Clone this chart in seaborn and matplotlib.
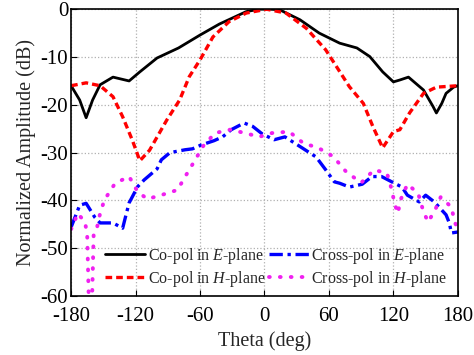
import pandas as pd
import seaborn as sns
import matplotlib.pyplot as plt
from matplotlib import ticker

# radiation patterns (theta in deg, amplitude in dB)
theta_co_e = [-180, -172, -166, -160, -153, -141, -126, -116, -100, -80, -60, -42, -17, -5, 5,
              14, 33, 51, 70, 86, 98, 110, 120, 126, 134, 148, 157, 160, 165, 169, 176, 180]
amp_co_e = [-16.0, -19.0, -22.7, -19.0, -15.8, -14.2, -15.0, -13.1, -10.2, -8.1, -5.4, -3.1, -0.5, 0.0, 0.0,
            -0.1, -2.2, -5.0, -7.1, -8.1, -9.9, -13.1, -15.2, -14.8, -14.2, -16.9, -20.4, -21.7, -19.7, -17.6, -16.3, -16.0]

theta_co_h = [-180, -166, -153, -141, -132, -123, -116, -107, -91, -79, -70, -60, -48, -33, -17,
              2, 20, 39, 57, 67, 79, 92, 101, 110, 120, 126, 135, 148, 160, 180]
amp_co_h = [-16.0, -15.4, -16.0, -18.3, -22.5, -27.4, -31.7, -29.5, -23.2, -19.0, -14.1, -10.6, -5.8, -2.6, -0.8,
            0.0, -0.8, -4.0, -8.5, -12.0, -16.2, -19.7, -24.6, -29.0, -25.6, -25.2, -21.7, -17.6, -16.3, -16.0]

theta_x_e = [-180, -172, -166, -158, -153, -141, -132, -130, -126, -118, -112, -100, -96, -88, -74,
             -67, -59, -47, -39, -31, -19, -11, -2, 9, 19, 35, 48, 57, 65, 70, 79, 91, 100,
             109, 121, 128, 133, 144, 150, 158, 169, 172, 174, 180]
amp_x_e = [-45.6, -41.0, -40.6, -43.5, -44.7, -44.7, -45.8, -44.0, -40.5, -37.1, -35.7, -33.4, -31.5, -30.0, -29.4,
           -29.2, -28.4, -27.5, -26.7, -25.2, -23.8, -24.5, -26.1, -27.3, -26.7, -29.0, -30.9, -33.6, -36.1, -36.4, -37.2, -36.6, -35.0,
           -35.0, -36.4, -37.2, -38.9, -40.3, -38.9, -40.3, -43.0, -44.7, -46.8, -46.6]

theta_x_h = [-180, -178, -174, -167, -165, -162, -159, -156, -153, -149, -139, -126, -118, -109, -95,
             -81, -73, -65, -57, -46, -32, -18, -5, 7, 23, 36, 50, 64, 76, 90, 102,
             114, 118, 121, 124, 127, 133, 143, 147, 152, 158, 164, 174, 177, 180]
amp_x_h = [-46.0, -45.1, -42.7, -44.5, -47.4, -75.0, -47.0, -45.8, -42.7, -39.9, -36.4, -35.0, -38.2, -39.7, -38.8,
           -37.8, -34.7, -31.7, -28.6, -25.9, -25.2, -25.9, -26.7, -25.9, -25.6, -28.0, -29.0, -30.8, -34.0, -36.3, -33.6,
           -34.3, -37.4, -40.5, -42.7, -39.7, -36.6, -38.5, -41.6, -44.5, -42.4, -39.3, -41.4, -44.5, -46.0]

names = ["Co-pol in $E$-plane", "Co-pol in $H$-plane",
         "Cross-pol in $E$-plane", "Cross-pol in $H$-plane"]
colors = ["black", "#ff0000", "#0000ff", "#f020f0"]

# long table for seaborn
frames = []
for name, th, amp in zip(names, [theta_co_e, theta_co_h, theta_x_e, theta_x_h],
                         [amp_co_e, amp_co_h, amp_x_e, amp_x_h]):
    frames.append(pd.DataFrame({"theta": th, "amp": amp, "series": name}))
df = pd.concat(frames, ignore_index=True)

sns.set_style("ticks")
plt.rcParams['font.family'] = ['Liberation Serif', 'DejaVu Serif']
plt.rcParams['mathtext.fontset'] = 'custom'
plt.rcParams['mathtext.rm'] = 'Liberation Serif'
plt.rcParams['mathtext.it'] = 'Liberation Serif:italic'
plt.rcParams['axes.unicode_minus'] = False

fig, ax = plt.subplots(figsize=(4.74, 3.55), dpi=100)
fig.subplots_adjust(left=0.150, right=0.966, top=0.974, bottom=0.166)

dashes = {names[0]: "", names[1]: (2.0, 1.2), names[2]: (4.0, 1.4, 1.0, 1.4), names[3]: (0.2, 2.6)}
sns.lineplot(data=df, x="theta", y="amp", hue="series", style="series",
             hue_order=names, style_order=names, palette=dict(zip(names, colors)),
             dashes=dashes, estimator=None, sort=False, legend=False, ax=ax)

widths = [2.0, 2.4, 2.4, 2.8]
for line, lw in zip(ax.lines[:4], widths):
    line.set_linewidth(lw)
ax.lines[3].set_dash_capstyle('round')

# axes
ax.set_xlim(-180, 180)
ax.set_ylim(-60, 0)
ax.xaxis.set_major_locator(ticker.MultipleLocator(60))
ax.yaxis.set_major_locator(ticker.MultipleLocator(10))
ax.tick_params(direction='in', length=4, labelsize=15, colors='black')
ax.tick_params(axis='x', pad=8)
ax.tick_params(axis='y', pad=2)
ax.grid(True, linestyle=':', color='#b0b0b0', linewidth=0.9)
for sp in ax.spines.values():
    sp.set_linewidth(1.2)
    sp.set_color('black')

ax.set_xlabel('Theta (deg)', fontsize=14.5, labelpad=4)
ax.set_ylabel('Normalized Amplitude (dB)', fontsize=14.5, labelpad=3)

ax.legend(handles=ax.lines[:4], labels=names, ncol=2, frameon=False, fontsize=11.5,
          loc='lower left', bbox_to_anchor=(0.07, 0.0), handlelength=2.5,
          handletextpad=0.15, columnspacing=0.2, labelspacing=0.2, borderaxespad=0.05)

plt.savefig('out.png', dpi=100)
